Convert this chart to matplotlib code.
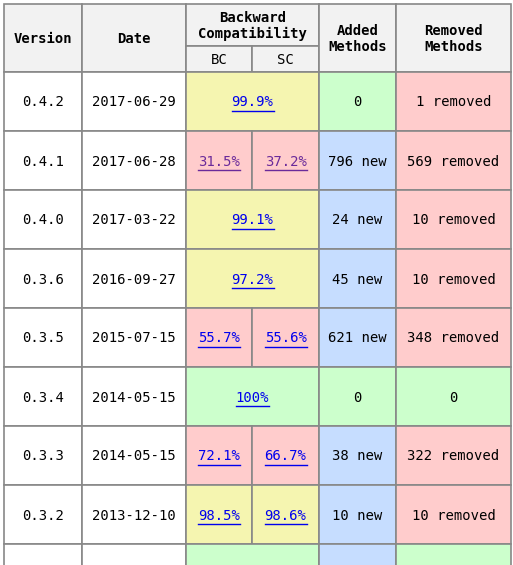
import matplotlib
matplotlib.use("Agg")
import matplotlib.pyplot as plt
from matplotlib.patches import Rectangle

versions = ["0.4.2", "0.4.1", "0.4.0", "0.3.6", "0.3.5", "0.3.4", "0.3.3", "0.3.2", ""]
dates = ["2017-06-29", "2017-06-28", "2017-03-22", "2016-09-27", "2015-07-15", "2014-05-15", "2014-05-15", "2013-12-10", ""]
bc = ["99.9%", "31.5%", "99.1%", "97.2%", "55.7%", "100%", "72.1%", "98.5%", ""]
sc = [None, "37.2%", None, None, "55.6%", None, "66.7%", "98.6%", None]
added = ["0", "796 new", "24 new", "45 new", "621 new", "0", "38 new", "10 new", ""]
removed = ["1 removed", "569 removed", "10 removed", "10 removed", "348 removed", "0", "322 removed", "10 removed", ""]
compat_color = ["y", "r", "y", "y", "r", "g", "r", "y", "g"]
added_color = ["g", "b", "b", "b", "b", "g", "b", "b", "b"]
removed_color = ["r", "r", "r", "r", "r", "g", "r", "r", "g"]
visited = [False, True, False, False, False, False, False, False, False]

C = {"y": "#f5f5b0", "g": "#ccffcc", "r": "#ffcccc", "b": "#c6ddff", "h": "#f2f2f2", "w": "#ffffff"}
xs = [4, 82, 186, 252, 319, 396, 511]
y0, ysplit, yh = 4, 46, 72
rh = 59
edge = "#888888"
W, H = 513, 565
fig = plt.figure(figsize=(W / 100, H / 100), dpi=100)
ax = fig.add_axes([0, 0, 1, 1])
ax.set_xlim(0, W); ax.set_ylim(H, 0); ax.axis("off")
mono = "DejaVu Sans Mono"

def cell(x0, x1, ya, yb, col, text="", color="black", bold=False, underline=False):
    ax.add_patch(Rectangle((x0, ya), x1 - x0, yb - ya, facecolor=C[col], edgecolor=edge, lw=1.2))
    if text:
        t = ax.text((x0 + x1) / 2, (ya + yb) / 2 + 1, text, ha="center", va="center", family=mono,
                    fontsize=10, color=color, fontweight="bold" if bold else "normal", linespacing=1.15)
        if underline:
            w = len(text) * 8.4
            cx = (x0 + x1) / 2
            ax.plot([cx - w / 2, cx + w / 2], [(ya + yb) / 2 + 9] * 2, color=color, lw=1)

# header
cell(xs[0], xs[1], y0, yh, "h", "Version", bold=True)
cell(xs[1], xs[2], y0, yh, "h", "Date", bold=True)
cell(xs[2], xs[4], y0, ysplit, "h", "Backward\nCompatibility", bold=True)
cell(xs[2], xs[3], ysplit, yh, "h", "BC")
cell(xs[3], xs[4], ysplit, yh, "h", "SC")
cell(xs[4], xs[5], y0, yh, "h", "Added\nMethods", bold=True)
cell(xs[5], xs[6], y0, yh, "h", "Removed\nMethods", bold=True)

for i in range(len(versions)):
    ya = yh + i * rh; yb = ya + rh
    lc = "#6a2a9a" if visited[i] else "#0000ee"
    cell(xs[0], xs[1], ya, yb, "w", versions[i])
    cell(xs[1], xs[2], ya, yb, "w", dates[i])
    if sc[i] is None:
        cell(xs[2], xs[4], ya, yb, compat_color[i], bc[i], color=lc, underline=bool(bc[i]))
    else:
        cell(xs[2], xs[3], ya, yb, compat_color[i], bc[i], color=lc, underline=True)
        cell(xs[3], xs[4], ya, yb, compat_color[i], sc[i], color=lc, underline=True)
    cell(xs[4], xs[5], ya, yb, added_color[i], added[i])
    cell(xs[5], xs[6], ya, yb, removed_color[i], removed[i])

fig.savefig("out.png", dpi=100)
